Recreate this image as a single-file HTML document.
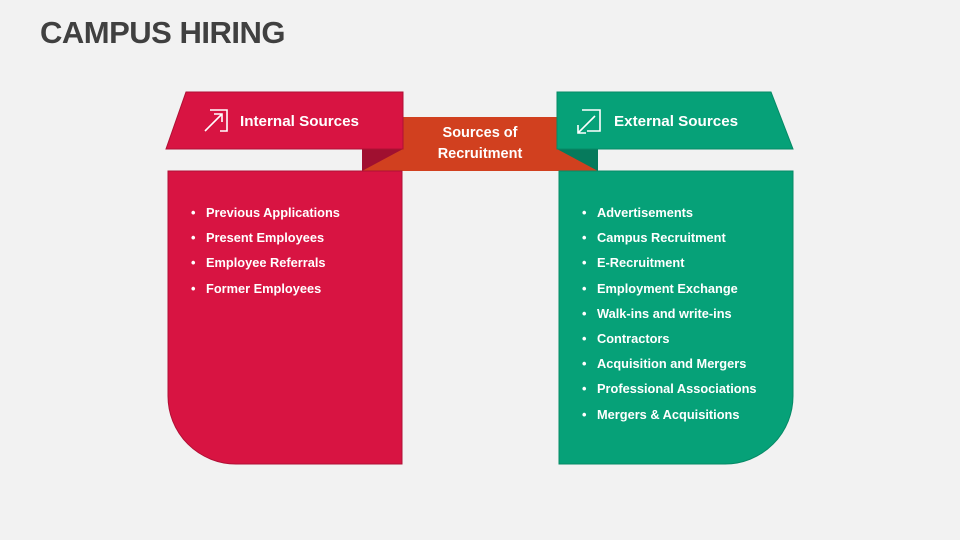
<!DOCTYPE html>
<html><head><meta charset="utf-8"><style>
body{margin:0;width:960px;height:540px;background:#f2f2f2;position:relative;overflow:hidden;font-family:"Liberation Sans",sans-serif}
.t{position:absolute;left:40px;top:15px;font-size:31px;font-weight:bold;color:#404040;letter-spacing:-0.5px}
ul{position:absolute;margin:0;padding:0;list-style:none;color:#fff;font-size:12.8px;font-weight:bold}
li{height:25.2px;line-height:25.2px;position:relative;padding-left:15px}
li:before{content:"•";position:absolute;left:0}
.lbl{position:absolute;color:#fff;font-weight:bold;font-size:15.2px}
</style></head><body>
<div class="t">CAMPUS HIRING</div>
<svg width="960" height="540" style="position:absolute;left:0;top:0">
<rect x="362" y="117" width="236" height="54" fill="#d1401f"/>
<polygon points="362,149 403,149 362,171" fill="#a01030"/>
<polygon points="557,149 598,149 598,171" fill="#067a5c"/>
<polygon points="186,92 403,92 403,149 166,149" fill="#d81442" stroke="#b01035" stroke-width="1"/>
<polygon points="557,92 771,92 793,149 557,149" fill="#06a178" stroke="#058a66" stroke-width="1"/>
<path d="M168,171 H402 V464 H236 A68,68 0 0 1 168,396 Z" fill="#d81442" stroke="#b01035"/>
<path d="M559,171 H793 V396 A68,68 0 0 1 725,464 H559 Z" fill="#06a178" stroke="#058a66"/>
<g stroke="#fff" stroke-width="1.6" fill="none">
<path d="M210,110 H227 V131 H220"/><path d="M205,131 L222,114 M214,114 H222 V122"/>
<path d="M582,110 H600 V131 H587"/><path d="M578,133 L595,116 M578,125 V133 H586"/>
</g>
</svg>
<div class="lbl" style="left:240px;top:113px">Internal Sources</div>
<div class="lbl" style="left:614px;top:113px">External Sources</div>
<div class="lbl" style="left:420px;top:123px;width:120px;text-align:center;font-size:14.5px;line-height:21px">Sources of<br>Recruitment</div>
<ul style="left:191px;top:200px">
<li>Previous Applications</li><li>Present Employees</li><li>Employee Referrals</li><li>Former Employees</li></ul>
<ul style="left:582px;top:200px">
<li>Advertisements</li><li>Campus Recruitment</li><li>E-Recruitment</li><li>Employment Exchange</li><li>Walk-ins and write-ins</li><li>Contractors</li><li>Acquisition and Mergers</li><li>Professional Associations</li><li>Mergers &amp; Acquisitions</li></ul>
</body></html>
